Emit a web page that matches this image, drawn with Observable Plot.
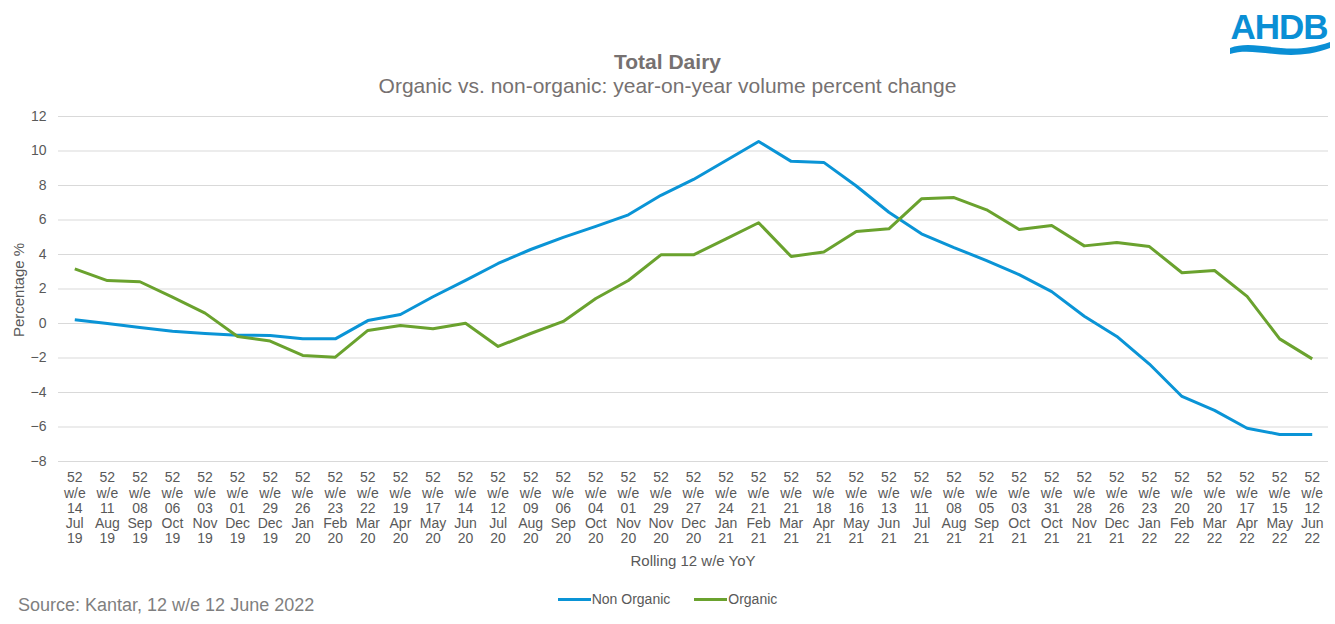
<!DOCTYPE html>
<html>
<head>
<meta charset="utf-8">
<script src="https://cdn.jsdelivr.net/npm/d3@7"></script>
<script src="https://cdn.jsdelivr.net/npm/@observablehq/plot@0.6"></script>
<style>
  html, body { margin: 0; padding: 0; background: #fff; }
  body { width: 1335px; height: 624px; position: relative; overflow: hidden; font-family: "Liberation Sans", Arial, sans-serif; }
  .abs { position: absolute; }
  #title { top: 50px; left: 0; width: 1335px; text-align: center; color: #767171; font-size: 21px; font-weight: bold; }
  #subtitle { top: 74px; left: 0; width: 1335px; text-align: center; color: #767171; font-size: 21px; }
  #chart { top: 100px; left: 0; }
  #ylab { left: 18px; top: 290px; transform: translate(-50%, -50%) rotate(-90deg); color: #595959; font-size: 15px; white-space: nowrap; }
  #xlab { top: 552px; left: 58px; width: 1270px; text-align: center; color: #595959; font-size: 15px; }
  #legend { top: 591px; left: 0; width: 1335px; display: flex; justify-content: center; gap: 24px; color: #595959; font-size: 14px; }
  #legend .item { display: flex; align-items: center; }
  #legend .sw { display: inline-block; width: 33px; height: 3px; margin-right: 1px; }
  #source { top: 595px; left: 18px; color: #7f7f7f; font-size: 18px; }
  #logo { top: 8px; left: 1226px; }
</style>
</head>
<body>
<div id="title" class="abs"></div>
<div id="subtitle" class="abs"></div>
<div id="chart" class="abs"></div>
<div id="ylab" class="abs"></div>
<div id="xlab" class="abs"></div>
<div id="legend" class="abs"></div>
<div id="source" class="abs"></div>
<svg id="logo" class="abs" width="106" height="50" viewBox="0 0 106 50">
  <text x="53" y="31" text-anchor="middle" font-family="Liberation Sans, Arial, sans-serif" font-weight="bold" font-size="35" fill="#0a8fd5" letter-spacing="-1">AHDB</text>
  <path d="M4,40 C30,30 60,50 104,34 L104,40 C62,56 30,38 4,46 Z" fill="#0a8fd5"/>
</svg>
<script>
const titleText = "Total Dairy";
const subtitleText = "Organic vs. non-organic: year-on-year volume percent change";
const yAxisTitle = "Percentage %";
const xAxisTitle = "Rolling 12 w/e YoY";
const sourceText = "Source: Kantar, 12 w/e 12 June 2022";
const seriesNames = ["Non Organic", "Organic"];
const seriesColors = ["#0a94d6", "#6aa22e"];

const weekEnding = ["14 Jul 19","11 Aug 19","08 Sep 19","06 Oct 19","03 Nov 19","01 Dec 19","29 Dec 19",
  "26 Jan 20","23 Feb 20","22 Mar 20","19 Apr 20","17 May 20","14 Jun 20","12 Jul 20","09 Aug 20",
  "06 Sep 20","04 Oct 20","01 Nov 20","29 Nov 20","27 Dec 20","24 Jan 21","21 Feb 21","21 Mar 21",
  "18 Apr 21","16 May 21","13 Jun 21","11 Jul 21","08 Aug 21","05 Sep 21","03 Oct 21","31 Oct 21",
  "28 Nov 21","26 Dec 21","23 Jan 22","20 Feb 22","20 Mar 22","17 Apr 22","15 May 22","12 Jun 22"];

const nonOrganic = [0.22, 0.0, -0.23, -0.45, -0.58, -0.68, -0.69, -0.89, -0.89, 0.17, 0.52, 1.55, 2.5,
  3.48, 4.29, 4.99, 5.63, 6.3, 7.43, 8.35, 9.45, 10.55, 9.4, 9.34, 7.97, 6.45, 5.2, 4.4, 3.65, 2.83,
  1.85, 0.42, -0.75, -2.35, -4.23, -5.04, -6.07, -6.43, -6.43];

const organic = [3.17, 2.49, 2.42, 1.53, 0.6, -0.75, -1.02, -1.85, -1.95, -0.4, -0.11, -0.3, 0.02,
  -1.33, -0.58, 0.12, 1.45, 2.49, 3.98, 3.98, 4.91, 5.84, 3.88, 4.15, 5.33, 5.49, 7.23, 7.3, 6.59,
  5.45, 5.68, 4.5, 4.7, 4.46, 2.94, 3.07, 1.57, -0.89, -2.05];

const yTicks = [-8, -6, -4, -2, 0, 2, 4, 6, 8, 10, 12];

const data = [];
weekEnding.forEach((w, i) => {
  data.push({week: w, series: seriesNames[0], value: nonOrganic[i]});
  data.push({week: w, series: seriesNames[1], value: organic[i]});
});

document.getElementById("title").textContent = titleText;
document.getElementById("subtitle").textContent = subtitleText;
document.getElementById("ylab").textContent = yAxisTitle;
document.getElementById("xlab").textContent = xAxisTitle;
document.getElementById("source").textContent = sourceText;
const legend = document.getElementById("legend");
seriesNames.forEach((n, i) => {
  const it = document.createElement("div");
  it.className = "item";
  const sw = document.createElement("span");
  sw.className = "sw";
  sw.style.background = seriesColors[i];
  it.appendChild(sw);
  const t = document.createElement("span");
  t.textContent = n;
  it.appendChild(t);
  legend.appendChild(it);
});

const plot = Plot.plot({
  width: 1335,
  height: 450,
  marginTop: 16,
  marginBottom: 89,
  marginLeft: 58,
  marginRight: 7,
  style: {fontFamily: "Liberation Sans, Arial, sans-serif", fontSize: "14px", color: "#595959", background: "transparent"},
  x: {type: "point", domain: weekEnding, padding: 0.5, round: false},
  y: {domain: [-8, 12]},
  color: {domain: seriesNames, range: seriesColors},
  marks: [
    Plot.gridY(yTicks, {stroke: "#d9d9d9", strokeOpacity: 1, strokeWidth: 1}),
    Plot.axisY(yTicks, {tickSize: 0, tickPadding: 12, label: null, fontSize: 14, fill: "#595959"}),
    Plot.axisX({
      tickSize: 0, tickPadding: 10, label: null, fontSize: 14, fill: "#595959", lineHeight: 1.09,
      tickFormat: d => { const p = d.split(" "); return "52\nw/e\n" + p[0] + "\n" + p[1] + "\n" + p[2]; }
    }),
    Plot.line(data, {x: "week", y: "value", z: "series", stroke: "series", strokeWidth: 3, strokeLinejoin: "round", strokeLinecap: "butt"})
  ]
});
document.getElementById("chart").appendChild(plot);
</script>
</body>
</html>
